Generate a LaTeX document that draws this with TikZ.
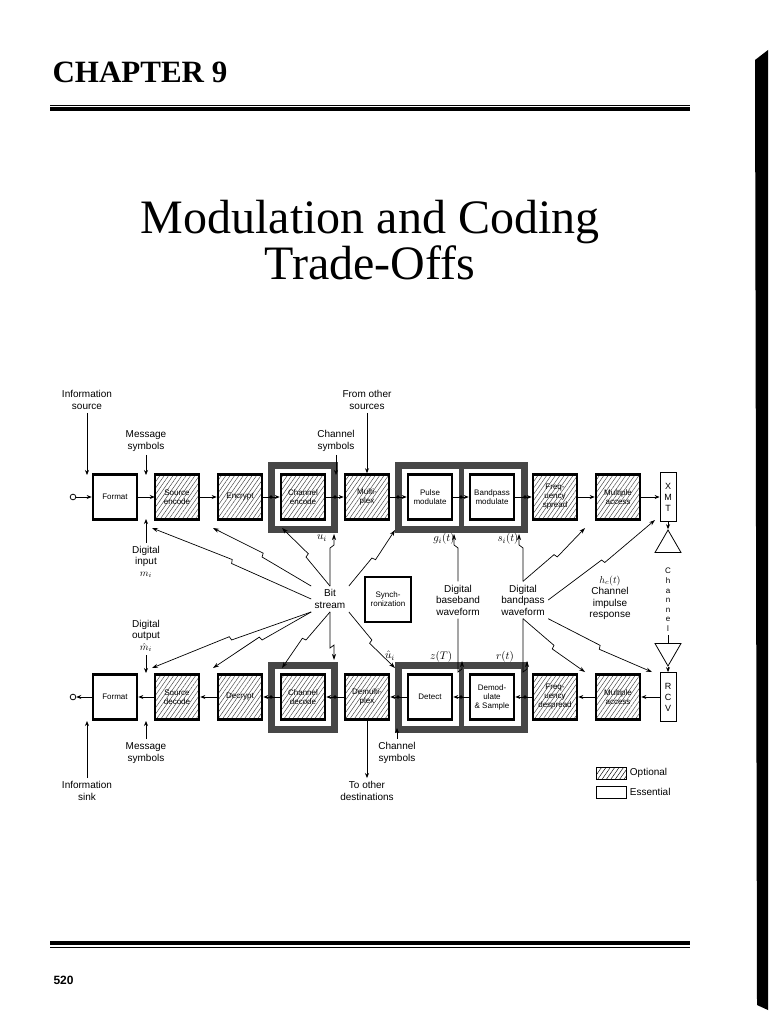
\documentclass[tikz,border=0pt]{standalone}
\usepackage{fontspec}
\setsansfont{Liberation Sans}
\setmainfont{Liberation Serif}
\usetikzlibrary{patterns,patterns.meta,calc,arrows.meta,shapes.geometric}
\newcommand\bolt[2]{\draw[zzl] (#1) -- ($(#1)!0.5!(#2)$) -- ($(#1)!0.5!(#2)!4pt!-75:(#2)$) -- (#2);}
\begin{document}
\begin{tikzpicture}[x=1pt,y=-1pt,
  blk/.style={draw,line width=2.6pt,minimum width=44pt,minimum height=45pt,inner sep=0pt,align=center,font=\sffamily\fontsize{8}{9}\selectfont},
  opt/.style={blk,pattern={Lines[angle=55,distance=3.6pt,line width=0.45pt]},pattern color=black!75},
  ess/.style={blk,fill=white},
  lab/.style={align=center,font=\sffamily\fontsize{10}{11.5}\selectfont},
  mlab/.style={font=\fontsize{11}{13}\selectfont},
  arr/.style={-{Stealth[length=5pt,width=4pt]},line width=0.7pt},
  zzl/.style={-{Stealth[length=6pt,width=4pt]},line width=0.7pt},
  frame/.style={fill=black!72},
  dot/.style={circle,fill,inner sep=1.4pt}]
\useasboundingbox (0,0) rectangle (768,1024);
\fill[white] (0,0) rectangle (768,1024);
% page header
\node[anchor=west,font=\rmfamily\bfseries\fontsize{31}{34}\selectfont] (chap) at (49,72) {CHAPTER 9};
\fill (50,107.5) rectangle (690,111);
\draw[line width=0.5pt] (50,105) -- (690,105);
\node[align=center,font=\rmfamily\fontsize{48}{46}\selectfont] (title) at (370,240) {Modulation and Coding\\Trade-Offs};
\fill (50,941) rectangle (690,944.5);
\draw[line width=0.5pt] (50,947) -- (690,947);
\node[anchor=west,font=\sffamily\bfseries\fontsize{12}{14}\selectfont] (pg) at (50,980) {520};
\fill (755,60) -- (768,50) -- (768,1010) -- (757,1005) -- cycle;
% frames
\fill[frame] (268,462) rectangle (338,533);
\fill[white] (275,469) rectangle (331,526);
\fill[frame] (395,462) rectangle (528,533);
\fill[white] (402,469) rectangle (459,526);
\fill[white] (464,469) rectangle (521,526);
\fill[frame] (268,662) rectangle (338,733);
\fill[white] (275,669) rectangle (331,726);
\fill[frame] (395,662) rectangle (528,733);
\fill[white] (402,669) rectangle (459,726);
\fill[white] (464,669) rectangle (521,726);
% top row
\node[ess] (fmt) at (115,497) {Format};
\node[opt] (senc) at (177,497) {Source\\encode};
\node[opt] (encr) at (240,497) {Encrypt};
\node[opt] (cenc) at (303,497) {Channel\\encode};
\node[opt] (mux) at (367,497) {Multi-\\plex};
\node[ess] (pmod) at (430,497) {Pulse\\modulate};
\node[ess] (bmod) at (492,497) {Bandpass\\modulate};
\node[opt] (fsp) at (555,497) {Freq-\\uency\\spread};
\node[opt] (mat) at (618,497) {Multiple\\access};
\node[draw,line width=0.8pt,minimum width=16pt,minimum height=49pt,inner sep=0pt,align=center,font=\sffamily\fontsize{9}{11}\selectfont] (xmt) at (668,497) {X\\M\\T};
\node[draw,circle,inner sep=2pt,line width=0.8pt] (src) at (73,497) {};
% bottom row
\node[ess] (fmt2) at (115,697) {Format};
\node[opt] (sdec) at (177,697) {Source\\decode};
\node[opt] (decr) at (240,697) {Decrypt};
\node[opt] (cdec) at (303,697) {Channel\\decode};
\node[opt] (dmux) at (367,697) {Demulti-\\plex};
\node[ess] (det) at (430,697) {Detect};
\node[ess] (dem) at (492,697) {Demod-\\ulate\\\& Sample};
\node[opt] (fds) at (555,697) {Freq-\\uency\\despread};
\node[opt] (mac2) at (618,697) {Multiple\\access};
\node[draw,line width=0.8pt,minimum width=16pt,minimum height=49pt,inner sep=0pt,align=center,font=\sffamily\fontsize{9}{11}\selectfont] (rcv) at (668,697) {R\\C\\V};
\node[draw,circle,inner sep=2pt,line width=0.8pt] (snk) at (73,697) {};
% antennas & channel
\node[draw,line width=0.8pt,regular polygon,regular polygon sides=3,minimum size=30pt,inner sep=0pt] (ant1) at (668,545) {};
\node[draw,line width=0.8pt,regular polygon,regular polygon sides=3,shape border rotate=180,minimum size=30pt,inner sep=0pt] (ant2) at (668,651) {};
\node[align=center,font=\sffamily\fontsize{8}{9.6}\selectfont] (chn) at (668,600) {C\\h\\a\\n\\n\\e\\l};
\draw[line width=0.7pt] (chn.south) -- (ant2.north);
\draw[arr] (xmt) -- (ant1.north);
\draw[arr] (ant2.south) -- (rcv);
% top connections
\draw[arr] (src) -- (fmt);
\draw[arr] (fmt) -- (senc);
\draw[arr] (senc) -- (encr);
\draw[arr] (encr) -- (cenc);
\draw[arr] (cenc) -- (mux);
\draw[arr] (mux) -- (pmod);
\draw[arr] (pmod) -- (bmod);
\draw[arr] (bmod) -- (fsp);
\draw[arr] (fsp) -- (mat);
\draw[arr] (mat) -- (xmt);
\foreach \x in {271,335,398,461,525} \node[dot] at (\x,497) {};
% bottom connections
\draw[arr] (rcv) -- (mac2);
\draw[arr] (mac2) -- (fds);
\draw[arr] (fds) -- (dem);
\draw[arr] (dem) -- (det);
\draw[arr] (det) -- (dmux);
\draw[arr] (dmux) -- (cdec);
\draw[arr] (cdec) -- (decr);
\draw[arr] (decr) -- (sdec);
\draw[arr] (sdec) -- (fmt2);
\draw[arr] (fmt2) -- (snk);
\foreach \x in {271,335,398,461,525} \node[dot] at (\x,697) {};
% labels
\node[lab] (isrc) at (87,400) {Information\\source};
\node[lab] (msym) at (146,441) {Message\\symbols};
\node[lab] (fos) at (367,400) {From other\\sources};
\node[lab] (csym) at (336,441) {Channel\\symbols};
\node[lab] (din) at (146,562) {Digital\\input\\$m_i$};
\node[lab] (bit) at (330,599) {Bit\\stream};
\node[draw,line width=2pt,minimum width=46pt,minimum height=45pt,align=center,font=\sffamily\fontsize{8}{9}\selectfont] (sync) at (388,599) {Synch-\\ronization};
\node[lab] (dbb) at (458,600) {Digital\\baseband\\waveform};
\node[lab] (dbp) at (523,600) {Digital\\bandpass\\waveform};
\node[lab] (chir) at (610,598) {$h_c(t)$\\Channel\\impulse\\response};
\node[lab] (dout) at (146,636) {Digital\\output\\$\hat m_i$};
\node[lab] (msym2) at (146,753) {Message\\symbols};
\node[lab] (isnk) at (87,791) {Information\\sink};
\node[lab] (csym2) at (397,753) {Channel\\symbols};
\node[lab] (tod) at (367,791) {To other\\destinations};
\node[mlab] (ui) at (322,538) {$u_i$};
\node[mlab] (gi) at (444,539) {$g_i(t)$};
\node[mlab] (si) at (508,539) {$s_i(t)$};
\node[mlab] (uh) at (390,656) {$\hat u_i$};
\node[mlab] (zt) at (441,657) {$z(T)$};
\node[mlab] (rt) at (505,657) {$r(t)$};
% label arrows
\coordinate (c1) at (87,475); \draw[arr] (isrc.south) -- (c1);
\coordinate (c2) at (146,475); \draw[arr] (msym.south) -- (c2);
\coordinate (c3) at (146,519); \draw[arr] (din.north) -- (c3);
\draw[arr] (fos.south) -- (mux.north);
\coordinate (c4) at (336,475); \draw[arr] (csym.south) -- (c4);
\coordinate (c5) at (146,673); \draw[arr] (dout.south) -- (c5);
\coordinate (c6) at (146,721); \draw[arr] (msym2.north) -- (c6);
\coordinate (c7) at (87,721); \draw[arr] (isnk.north) -- (c7);
\coordinate (c8) at (397,728); \draw[arr] (csym2.north) -- (c8);
\draw[arr] (dmux.south) -- (tod.north);
% vertical waveform arrows
\draw[zzl] (dbb.north) -- (458,548) -- (454,545) -- (454,534);
\draw[zzl] (dbp.north) -- (523,548) -- (519,545) -- (519,534);
\draw[zzl] (dbb.south) -- (458,672) -- (462,669) -- (462,661);
\draw[zzl] (dbp.south) -- (523,672) -- (527,669) -- (527,661);
\draw[zzl] (bit.north) -- (330,548) -- (334,545) -- (334,534);
\draw[zzl] (bit.south) -- (330,648) -- (334,645) -- (334,660);
% bit stream bolts
\coordinate (b1) at (152,528); \bolt{bit.west}{b1}
\coordinate (b2) at (213,528); \bolt{bit.north west}{b2}
\coordinate (b3) at (282,528); \bolt{bit.north}{b3}
\coordinate (b4) at (395,530); \bolt{bit.north east}{b4}
\coordinate (b5) at (152,668); \bolt{bit.south west}{b5}
\coordinate (b6) at (213,668); \bolt{bit.south west}{b6}
\coordinate (b7) at (282,668); \bolt{bit.south}{b7}
\coordinate (b8) at (395,668); \bolt{bit.south east}{b8}
% bandpass bolts
\coordinate (p1) at (585,528); \bolt{dbp.north}{p1}
\coordinate (p2) at (655,520); \bolt{dbp.east}{p2}
\coordinate (p3) at (585,672); \bolt{dbp.south}{p3}
\coordinate (p4) at (652,672); \bolt{dbp.south east}{p4}
% legend
\node[draw,line width=0.8pt,pattern={Lines[angle=55,distance=3.6pt,line width=0.45pt]},minimum width=30pt,minimum height=12pt] (lo) at (611,773) {};
\node[anchor=west,lab] (lot) at (lo.east) {Optional};
\node[draw,line width=0.8pt,minimum width=30pt,minimum height=12pt] (le) at (611,792) {};
\node[anchor=west,lab] (let) at (le.east) {Essential};
\end{tikzpicture}
\end{document}
